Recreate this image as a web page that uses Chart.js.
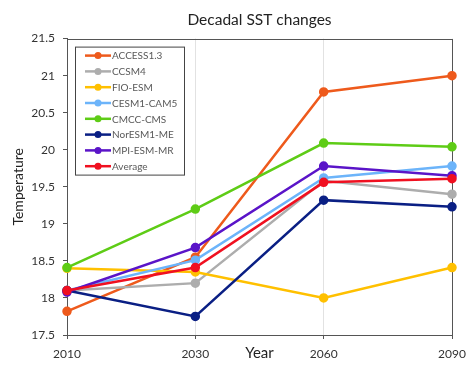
<!DOCTYPE html>
<html lang="en">
<head>
    <meta charset="UTF-8">
    <title>Decadal SST changes</title>
    <script src="https://cdn.jsdelivr.net/npm/chart.js"></script>
    <style>
        body { margin: 0; background: #fff; }
        #wrap { width: 474px; height: 366px; }
    </style>
</head>
<body>
    <div id="wrap"><canvas id="sstChart" width="474" height="366"></canvas></div>

    <script>
        // data
        const years = ['2010', '2030', '2060', '2090'];
        const models = ['ACCESS1.3', 'CCSM4', 'FIO-ESM', 'CESM1-CAM5', 'CMCC-CMS', 'NorESM1-ME', 'MPI-ESM-MR', 'Average'];
        const access13 = [17.82, 18.55, 20.78, 21.0];
        const ccsm4 = [18.1, 18.2, 19.58, 19.4];
        const fioEsm = [18.4, 18.35, 18.0, 18.41];
        const cesm1Cam5 = [18.1, 18.51, 19.62, 19.78];
        const cmccCms = [18.41, 19.2, 20.09, 20.04];
        const norEsm1Me = [18.1, 17.75, 19.32, 19.23];
        const mpiEsmMr = [18.08, 18.68, 19.78, 19.65];
        const average = [18.1, 18.41, 19.56, 19.61];
        const yTicks = [17.5, 18, 18.5, 19, 19.5, 20, 20.5, 21, 21.5];

        const colors = ['#EE5A1C', '#ADADAD', '#FFC000', '#6CB4FA', '#5ECC16', '#0A1F84', '#5A14C8', '#F01020'];
        const series = [access13, ccsm4, fioEsm, cesm1Cam5, cmccCms, norEsm1Me, mpiEsmMr, average];

        Chart.defaults.font.family = 'Lato, "Open Sans", sans-serif';
        Chart.defaults.color = '#333';

        // frame round the plot area
        const frame = {
            id: 'frame',
            beforeDatasetsDraw(chart) {
                const a = chart.chartArea, ctx = chart.ctx;
                ctx.save();
                ctx.strokeStyle = '#555';
                ctx.lineWidth = 1;
                ctx.strokeRect(Math.round(a.left) + 0.5, Math.round(a.top) + 0.5, Math.round(a.right - a.left), Math.round(a.bottom - a.top));
                ctx.restore();
            }
        };

        // legend box drawn inside the plot area
        const boxLegend = {
            id: 'boxLegend',
            afterDatasetsDraw(chart) {
                const a = chart.chartArea, ctx = chart.ctx;
                const x0 = a.left + 8, y0 = a.top + 8, w = 109, h = 128, row = 15.8;
                ctx.save();
                ctx.fillStyle = '#fff';
                ctx.fillRect(x0, y0, w, h);
                ctx.strokeStyle = '#444';
                ctx.lineWidth = 1;
                ctx.strokeRect(x0 + 0.5, y0 + 0.5, w, h);
                ctx.font = '10px Lato, "Open Sans", sans-serif';
                ctx.textBaseline = 'middle';
                chart.data.datasets.forEach((ds, i) => {
                    const y = y0 + 9 + i * row;
                    ctx.strokeStyle = ds.borderColor;
                    ctx.lineWidth = 2.5;
                    ctx.beginPath();
                    ctx.moveTo(x0 + 10, y);
                    ctx.lineTo(x0 + 36, y);
                    ctx.stroke();
                    ctx.fillStyle = ds.borderColor;
                    ctx.beginPath();
                    ctx.arc(x0 + 23, y, 3.5, 0, Math.PI * 2);
                    ctx.fill();
                    ctx.fillStyle = '#595959';
                    ctx.fillText(ds.label, x0 + 37, y + 0.5);
                });
                ctx.restore();
            }
        };

        const datasets = models.map((name, i) => ({
            label: name,
            data: series[i],
            borderColor: colors[i],
            backgroundColor: colors[i],
            pointBackgroundColor: colors[i],
            pointBorderColor: colors[i],
            borderWidth: 2.5,
            pointRadius: 3.5,
            tension: 0,
            order: models.length - i
        }));

        new Chart(document.getElementById('sstChart'), {
            type: 'line',
            data: { labels: years, datasets: datasets },
            plugins: [frame, boxLegend],
            options: {
                responsive: false,
                animation: false,
                layout: { padding: { left: 0, right: 22, top: 0, bottom: 0 } },
                plugins: {
                    legend: { display: false },
                    tooltip: { enabled: false },
                    title: {
                        display: true,
                        fullSize: false,
                        text: 'Decadal SST changes',
                        color: '#222',
                        font: { size: 15.5, weight: 'normal' },
                        padding: { top: 11, bottom: 9 }
                    }
                },
                scales: {
                    x: {
                        type: 'category',
                        offset: false,
                        grid: { color: '#e2e2e2', tickColor: '#555', tickLength: 4 },
                        border: { display: true, color: '#555' },
                        ticks: { color: '#333', font: { size: 12 }, padding: 8, maxRotation: 0 },
                        title: { display: true, text: 'Year', color: '#222', font: { size: 15 }, padding: { top: 0, bottom: 4 } },
                        afterFit(s) { s.height = 31; }
                    },
                    y: {
                        min: yTicks[0],
                        max: yTicks[yTicks.length - 1],
                        afterBuildTicks(s) { s.ticks = yTicks.map(v => ({ value: v })); },
                        grid: { drawOnChartArea: false, tickColor: '#555', tickLength: 4 },
                        border: { display: true, color: '#555' },
                        ticks: { color: '#333', font: { size: 12 }, padding: 8, callback: v => String(v) },
                        title: { display: true, text: 'Temperature', color: '#222', font: { size: 14 }, padding: { top: 10, bottom: 0 } },
                        afterFit(s) { s.width = 67; }
                    }
                }
            }
        });
    </script>
</body>
</html>
